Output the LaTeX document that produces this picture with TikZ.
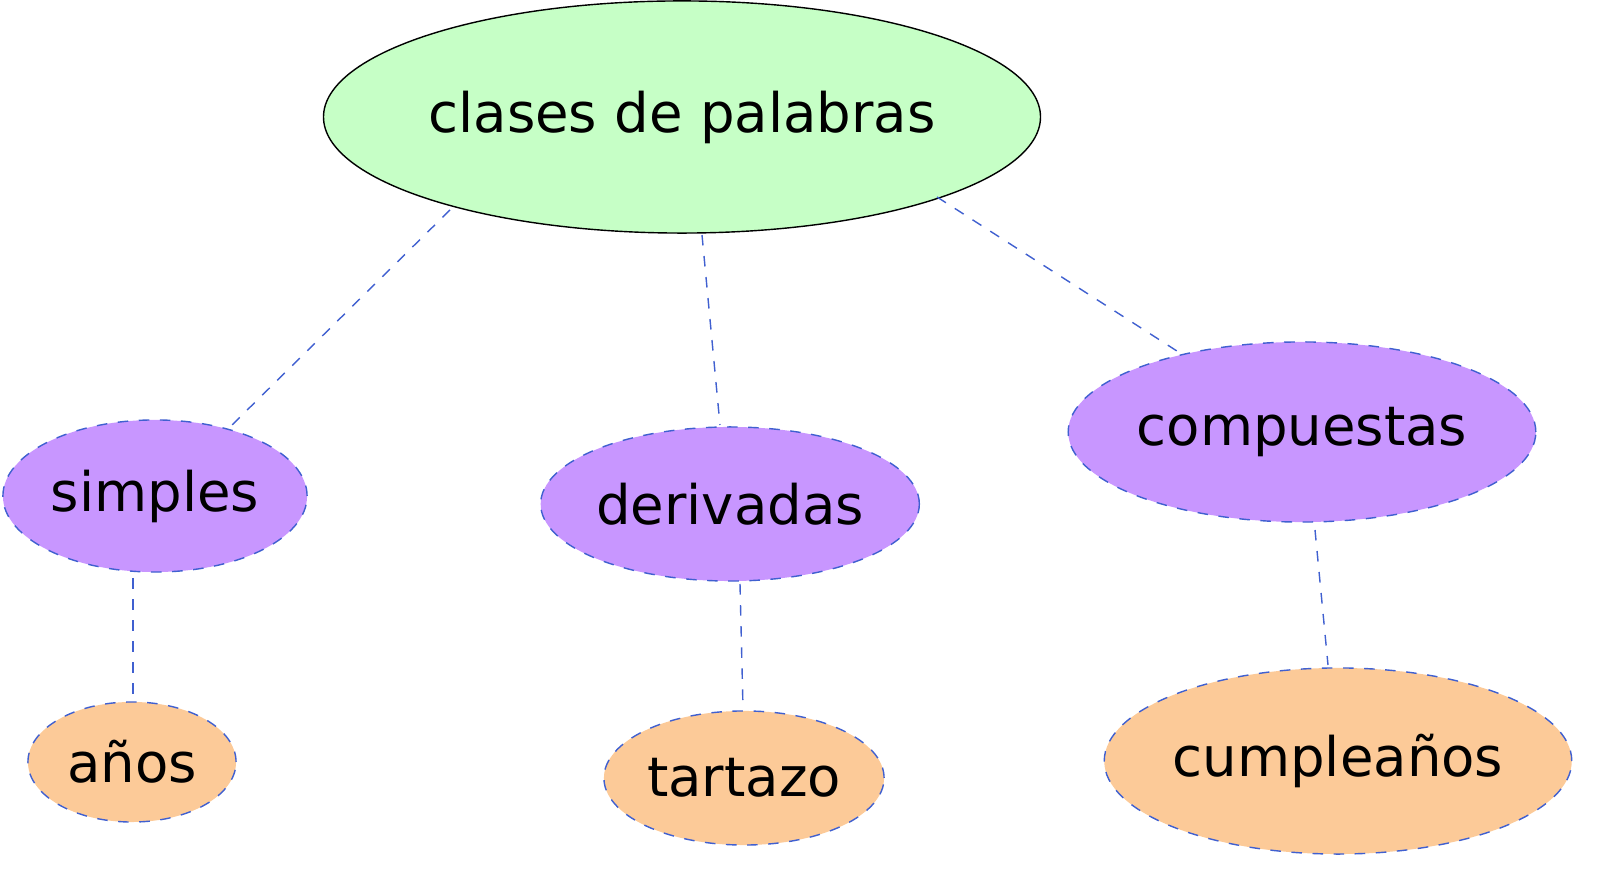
\documentclass[tikz,border=0pt]{standalone}
\usepackage{fontspec}
\setmainfont{DejaVu Sans}
\usetikzlibrary{shapes.geometric}
\definecolor{gr}{RGB}{198,255,198}
\definecolor{pu}{RGB}{200,150,255}
\definecolor{orc}{RGB}{252,202,152}
\definecolor{bl}{RGB}{64,96,208}
\begin{document}
\begin{tikzpicture}[x=0.01cm,y=-0.01cm,
  el/.style={ellipse,inner sep=0pt,font=\fontsize{15.5}{18}\selectfont},
  sub/.style={el,draw=bl,dashed,thin},
  link/.style={draw=bl,dashed,thin}]
\useasboundingbox (0,0) rectangle (1600,880);
\node[el,draw=black,fill=gr,minimum width=680\pgflinewidth*0+6.8cm,minimum height=2.32cm] (top) at (682,117) {clases de palabras};
\node[sub,fill=pu,minimum width=3.04cm,minimum height=1.52cm] (simples) at (155,496) {simples};
\node[sub,fill=pu,minimum width=3.66cm,minimum height=1.54cm] (deriv) at (730,504) {derivadas};
\node[sub,fill=pu,minimum width=4.44cm,minimum height=1.80cm] (comp) at (1302,432) {compuestas};
\node[sub,fill=orc,minimum width=2.08cm,minimum height=1.20cm] (anos) at (132,762) {años};
\node[sub,fill=orc,minimum width=2.80cm,minimum height=1.34cm] (tart) at (744,778) {tartazo};
\node[sub,fill=orc,minimum width=4.46cm,minimum height=1.86cm] (cump) at (1338,761) {cumpleaños};
\coordinate (a1) at (450,210); \coordinate (a2) at (232,425);
\coordinate (b1) at (702,235); \coordinate (b2) at (720,425);
\coordinate (c1) at (937,197); \coordinate (c2) at (1180,353);
\coordinate (d1) at (133,578); \coordinate (d2) at (133,702);
\coordinate (e1) at (740,584); \coordinate (e2) at (743,708);
\coordinate (f1) at (1315,530); \coordinate (f2) at (1328,665);
\draw[link] (a1) -- (a2);
\draw[link] (b1) -- (b2);
\draw[link] (c1) -- (c2);
\draw[link] (d1) -- (d2);
\draw[link] (e1) -- (e2);
\draw[link] (f1) -- (f2);
\end{tikzpicture}
\end{document}
